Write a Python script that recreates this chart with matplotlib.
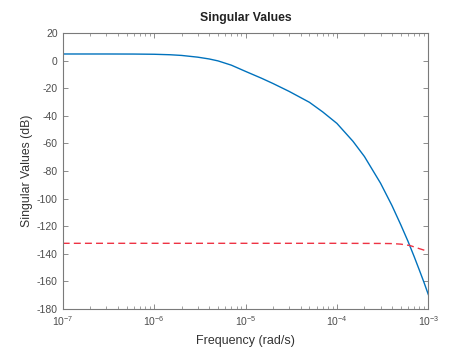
import matplotlib
matplotlib.use("Agg")
import matplotlib.pyplot as plt
import matplotlib.ticker as mticker

# Frequency (rad/s)
freq = [1e-7, 3e-7, 6e-7, 1e-6, 1.5e-6, 2e-6, 3e-6, 4e-6, 5e-6, 7e-6, 1e-5, 1.5e-5, 2e-5,
        3e-5, 5e-5, 7e-5, 1e-4, 1.5e-4, 2e-4, 3e-4, 4e-4, 5e-4, 6e-4, 7e-4, 8e-4, 9e-4, 1e-3]
# Largest singular value (dB)
sv1 = [4.8, 4.8, 4.75, 4.6, 4.25, 3.75, 2.5, 1.2, -0.2, -3.3, -7.8, -12.8, -16.6,
       -22.3, -30.2, -37.2, -45.5, -58.5, -69.5, -88.8, -105.0, -119.0, -131.0, -142.0, -152.0, -161.0, -169.5]
# Smallest singular value (dB)
freq2 = [1e-7, 1e-6, 1e-5, 1e-4, 3e-4, 4e-4, 5e-4, 6.3e-4, 8e-4, 1e-3]
sv2 = [-132.4, -132.4, -132.4, -132.4, -132.5, -132.6, -133.0, -134.0, -136.3, -138.3]

title = "Singular Values"
xlabel = "Frequency (rad/s)"
ylabel = "Singular Values (dB)"
yticks = list(range(-180, 21, 20))

plt.rcParams['font.family'] = ['Liberation Sans', 'DejaVu Sans']
plt.rcParams['axes.unicode_minus'] = False

fig = plt.figure(figsize=(4.74, 3.55), dpi=100)
ax = fig.add_axes([0.1323, 0.1296, 0.9036 - 0.1323, 0.907 - 0.1296])

ax.semilogx(freq, sv1, color='#0072BD', lw=1.0)
ax.semilogx(freq2, sv2, color='#EE3344', lw=1.0, dashes=(5, 3))

ax.set_xlim(1e-7, 1e-3)
ax.set_ylim(-180, 20)
ax.set_yticks(yticks)
ax.xaxis.set_major_locator(mticker.LogLocator(base=10, numticks=10))
ax.xaxis.set_minor_locator(mticker.LogLocator(base=10, subs=range(2, 10), numticks=20))

axcol = '#7a7a7a'
for s in ax.spines.values():
    s.set_color(axcol)
    s.set_linewidth(0.8)
ax.tick_params(which='both', direction='in', top=True, right=True, colors=axcol,
               labelcolor='#4d4d4d', labelsize=7.5)
ax.tick_params(which='major', length=3.5, width=0.6)
ax.tick_params(which='minor', length=2, width=0.5)

ax.set_title(title, fontsize=8.8, fontweight='bold', color='#222222', pad=9)
ax.set_xlabel(xlabel, fontsize=9, color='#333333', labelpad=5)
ax.set_ylabel(ylabel, fontsize=8.8, color='#333333', labelpad=3)

fig.savefig('out.png', dpi=100, facecolor='white')
